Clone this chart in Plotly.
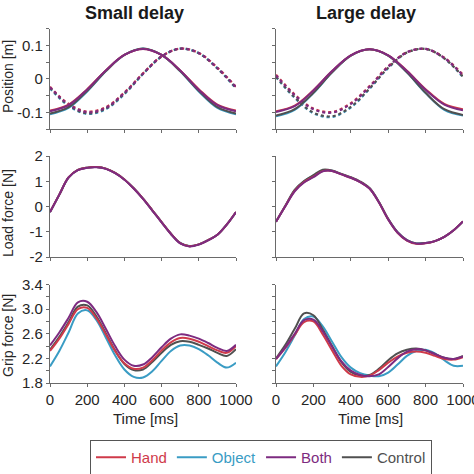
import plotly.graph_objects as go
from plotly.subplots import make_subplots

# ---------------- data ----------------
t_pos = [0, 100, 200, 300, 400, 500, 600, 700, 800, 900, 1000]
t_f = [0, 50, 100, 150, 200, 250, 300, 350, 400, 450, 500,
       550, 600, 650, 700, 750, 800, 850, 900, 950, 1000]

conditions = ["Hand", "Object", "Both", "Control"]
colors = {"Hand": "#cf3a4a", "Object": "#3a9cc4", "Both": "#7d2b80", "Control": "#505050"}

# Position, small delay (solid = hand, dotted = object)
pos_small_solid = {
    "Hand":    [-0.095, -0.077, -0.031, 0.025, 0.071, 0.089, 0.071, 0.025, -0.031, -0.077, -0.095],
    "Object":  [-0.106, -0.087, -0.038, 0.022, 0.071, 0.090, 0.071, 0.022, -0.038, -0.087, -0.106],
    "Both":    [-0.097, -0.079, -0.032, 0.025, 0.071, 0.089, 0.071, 0.025, -0.033, -0.079, -0.097],
    "Control": [-0.104, -0.085, -0.036, 0.023, 0.071, 0.090, 0.071, 0.023, -0.036, -0.085, -0.104],
}
pos_small_dot = {
    "Hand":    [-0.024, -0.075, -0.098, -0.085, -0.041, 0.016, 0.067, 0.090, 0.077, 0.033, -0.024],
    "Object":  [-0.029, -0.081, -0.105, -0.091, -0.046, 0.014, 0.066, 0.090, 0.076, 0.031, -0.029],
    "Both":    [-0.025, -0.077, -0.100, -0.087, -0.042, 0.015, 0.067, 0.090, 0.077, 0.032, -0.025],
    "Control": [-0.027, -0.079, -0.103, -0.089, -0.044, 0.015, 0.066, 0.090, 0.076, 0.031, -0.027],
}
# Position, large delay
pos_large_solid = {
    "Hand":    [-0.097, -0.080, -0.034, 0.023, 0.070, 0.088, 0.070, 0.024, -0.031, -0.075, -0.091],
    "Object":  [-0.112, -0.093, -0.043, 0.019, 0.069, 0.088, 0.069, 0.019, -0.043, -0.093, -0.110],
    "Both":    [-0.099, -0.082, -0.035, 0.023, 0.070, 0.088, 0.070, 0.023, -0.033, -0.077, -0.094],
    "Control": [-0.110, -0.091, -0.042, 0.019, 0.069, 0.088, 0.069, 0.019, -0.042, -0.091, -0.108],
}
pos_large_dot = {
    "Hand":    [0.012, -0.047, -0.089, -0.099, -0.073, -0.022, 0.037, 0.079, 0.089, 0.063, 0.012],
    "Object":  [0.005, -0.057, -0.103, -0.114, -0.086, -0.030, 0.032, 0.078, 0.089, 0.061, 0.005],
    "Both":    [0.010, -0.049, -0.091, -0.101, -0.075, -0.024, 0.036, 0.079, 0.089, 0.062, 0.010],
    "Control": [0.006, -0.055, -0.101, -0.112, -0.084, -0.029, 0.033, 0.078, 0.089, 0.061, 0.006],
}

# Load force
load_small = {
    "Hand":    [-0.22, 0.47, 1.15, 1.45, 1.54, 1.56, 1.50, 1.33, 1.07, 0.72, 0.31, -0.15, -0.62, -1.08, -1.45, -1.57, -1.50, -1.33, -1.12, -0.72, -0.22],
    "Object":  [-0.23, 0.46, 1.14, 1.45, 1.54, 1.56, 1.50, 1.33, 1.07, 0.72, 0.31, -0.15, -0.62, -1.08, -1.44, -1.56, -1.50, -1.33, -1.12, -0.72, -0.23],
    "Both":    [-0.22, 0.47, 1.15, 1.44, 1.53, 1.55, 1.49, 1.32, 1.06, 0.71, 0.30, -0.16, -0.63, -1.09, -1.46, -1.58, -1.51, -1.34, -1.12, -0.72, -0.22],
    "Control": [-0.22, 0.47, 1.15, 1.45, 1.54, 1.56, 1.50, 1.33, 1.07, 0.72, 0.31, -0.15, -0.62, -1.08, -1.45, -1.57, -1.50, -1.33, -1.12, -0.72, -0.22],
}
load_large = {
    "Hand":    [-0.60, 0.02, 0.62, 0.97, 1.18, 1.40, 1.41, 1.27, 1.14, 0.97, 0.71, 0.17, -0.51, -1.04, -1.35, -1.48, -1.46, -1.37, -1.20, -0.94, -0.59],
    "Object":  [-0.60, 0.03, 0.65, 1.00, 1.22, 1.43, 1.42, 1.28, 1.15, 0.98, 0.72, 0.18, -0.50, -1.02, -1.33, -1.46, -1.45, -1.37, -1.20, -0.94, -0.59],
    "Both":    [-0.60, 0.01, 0.60, 0.95, 1.16, 1.39, 1.41, 1.27, 1.14, 0.97, 0.71, 0.17, -0.51, -1.03, -1.34, -1.47, -1.45, -1.37, -1.20, -0.94, -0.59],
    "Control": [-0.60, 0.03, 0.66, 1.01, 1.24, 1.46, 1.43, 1.29, 1.16, 0.99, 0.73, 0.19, -0.49, -1.02, -1.33, -1.46, -1.45, -1.37, -1.20, -0.94, -0.59],
}

# Grip force
grip_small = {
    "Hand":    [2.32, 2.52, 2.76, 3.00, 3.02, 2.85, 2.59, 2.32, 2.12, 2.03, 2.05, 2.17, 2.33, 2.46, 2.53, 2.52, 2.47, 2.40, 2.33, 2.29, 2.40],
    "Object":  [2.07, 2.32, 2.62, 2.93, 2.98, 2.82, 2.54, 2.25, 2.02, 1.90, 1.89, 1.99, 2.16, 2.32, 2.41, 2.41, 2.35, 2.25, 2.13, 2.05, 2.13],
    "Both":    [2.41, 2.62, 2.86, 3.11, 3.12, 2.95, 2.68, 2.40, 2.18, 2.08, 2.10, 2.22, 2.38, 2.52, 2.59, 2.57, 2.52, 2.45, 2.37, 2.32, 2.42],
    "Control": [2.34, 2.55, 2.79, 3.04, 3.06, 2.88, 2.61, 2.33, 2.11, 2.01, 2.02, 2.14, 2.29, 2.42, 2.48, 2.47, 2.42, 2.36, 2.29, 2.24, 2.35],
}
grip_large = {
    "Hand":    [2.19, 2.37, 2.58, 2.79, 2.80, 2.59, 2.33, 2.08, 1.94, 1.90, 1.92, 2.01, 2.13, 2.23, 2.29, 2.31, 2.29, 2.24, 2.19, 2.18, 2.22],
    "Object":  [2.07, 2.30, 2.57, 2.84, 2.88, 2.72, 2.47, 2.22, 2.05, 1.96, 1.92, 1.91, 1.97, 2.10, 2.24, 2.32, 2.34, 2.28, 2.17, 2.08, 2.08],
    "Both":    [2.19, 2.38, 2.60, 2.82, 2.83, 2.64, 2.39, 2.15, 2.00, 1.93, 1.91, 1.94, 2.06, 2.20, 2.31, 2.35, 2.33, 2.27, 2.21, 2.19, 2.23],
    "Control": [2.20, 2.42, 2.68, 2.93, 2.90, 2.67, 2.40, 2.14, 1.98, 1.92, 1.93, 2.03, 2.17, 2.28, 2.34, 2.36, 2.33, 2.27, 2.21, 2.19, 2.24],
}

col_titles = ["Small delay", "Large delay"]
row_titles = ["Position [m]", "Load force [N]", "Grip force [N]"]
x_ticks = [0, 200, 400, 600, 800, 1000]
pos_ticks = [-0.15, -0.1, -0.05, 0, 0.05, 0.1, 0.15]
pos_text = ["", "-0.1", "", "0", "", "0.1", ""]
load_ticks = [-2, -1, 0, 1, 2]
load_text = ["-2", "-1", "0", "1", "2"]
grip_ticks = [1.8, 2.0, 2.2, 2.4, 2.6, 2.8, 3.0, 3.2, 3.4]
grip_text = ["1.8", "", "2.2", "", "2.6", "", "3.0", "", "3.4"]

# ---------------- figure ----------------
W = H = 474
FONT = "Liberation Sans, Arial, sans-serif"
fig = make_subplots(rows=3, cols=2)

draw_order = ["Object", "Control", "Hand", "Both"]
for ci, (ps, pd_, ld, gr) in enumerate([(pos_small_solid, pos_small_dot, load_small, grip_small),
                                         (pos_large_solid, pos_large_dot, load_large, grip_large)]):
    col = ci + 1
    for c in draw_order:
        fig.add_trace(go.Scatter(x=t_pos, y=pd_[c], mode="lines", showlegend=False,
                                 line=dict(color=colors[c], width=2.2, dash="dot", shape="spline")),
                      row=1, col=col)
    for c in draw_order:
        fig.add_trace(go.Scatter(x=t_pos, y=ps[c], mode="lines", showlegend=False,
                                 line=dict(color=colors[c], width=2, shape="spline")),
                      row=1, col=col)
    for c in draw_order:
        fig.add_trace(go.Scatter(x=t_f, y=ld[c], mode="lines", showlegend=False,
                                 line=dict(color=colors[c], width=2, shape="spline")),
                      row=2, col=col)
    for c in draw_order:
        fig.add_trace(go.Scatter(x=t_f, y=gr[c], mode="lines", showlegend=False,
                                 line=dict(color=colors[c], width=2, shape="spline")),
                      row=3, col=col)

# legend entries (in order)
for c in conditions:
    fig.add_trace(go.Scatter(x=[None], y=[None], mode="lines",
                             name=f"<span style='color:{colors[c]}'>{c}</span>",
                             line=dict(color=colors[c], width=2), showlegend=True),
                  row=3, col=1)

def px_x(a, b):
    return [a / W, b / W]

def px_y(top, bottom):
    return [1 - bottom / H, 1 - top / H]

x_domains = [px_x(50, 236), px_x(276, 463)]
y_domains = [px_y(28.5, 129), px_y(156, 257), px_y(284.5, 383)]
y_ranges = [[-0.15, 0.15], [-2, 2], [1.8, 3.4]]
y_tv = [(pos_ticks, pos_text), (load_ticks, load_text), (grip_ticks, grip_text)]

axis_color = "#6a6a6a"
tick_font = dict(family=FONT, size=15, color="#262626")
for r in range(3):
    for c in range(2):
        fig.update_xaxes(row=r + 1, col=c + 1, domain=x_domains[c], range=[0, 1000],
                         tickvals=x_ticks, ticktext=[str(v) for v in x_ticks],
                         showticklabels=(r == 2), ticks="outside", ticklen=3,
                         tickcolor=axis_color, showline=True, linecolor=axis_color,
                         linewidth=1.3, showgrid=False, zeroline=False, tickfont=tick_font,
                         ticklabeloverflow="allow")
        tv, tt = y_tv[r]
        fig.update_yaxes(row=r + 1, col=c + 1, domain=y_domains[r], range=y_ranges[r],
                         tickvals=tv, ticktext=tt, showticklabels=(c == 0),
                         ticks="outside", ticklen=3, tickcolor=axis_color,
                         showline=True, linecolor=axis_color, linewidth=1.3,
                         showgrid=False, zeroline=False, tickfont=tick_font)

annotations = []
for c, title in enumerate(col_titles):
    cx = [134, 366][c]
    annotations.append(dict(text=f"<b>{title}</b>", x=cx / W, y=1 - 13 / H, xref="paper", yref="paper",
                            xanchor="center", yanchor="middle", showarrow=False,
                            font=dict(family=FONT, size=18, color="#1a1a1a")))
    annotations.append(dict(text="Time [ms]", x=[145, 370][c] / W, y=1 - 418 / H, xref="paper",
                            yref="paper", xanchor="center", yanchor="middle", showarrow=False,
                            font=dict(family=FONT, size=15, color="#262626")))
for r, title in enumerate(row_titles):
    cy = [77, 213, 336][r]
    annotations.append(dict(text=title, x=8 / W, y=1 - cy / H, xref="paper", yref="paper",
                            xanchor="center", yanchor="middle", showarrow=False, textangle=-90,
                            font=dict(family=FONT, size=14, color="#262626")))

fig.update_layout(
    width=W, height=H, margin=dict(l=0, r=0, t=0, b=0, autoexpand=False),
    paper_bgcolor="white", plot_bgcolor="white",
    annotations=annotations,
    showlegend=True,
    legend=dict(orientation="h", x=261 / W, xanchor="center", y=1 - 440 / H, yanchor="top",
                bordercolor="#555555", borderwidth=1, bgcolor="white",
                font=dict(family=FONT, size=15), itemwidth=30),
)

fig.write_html("out.html")
